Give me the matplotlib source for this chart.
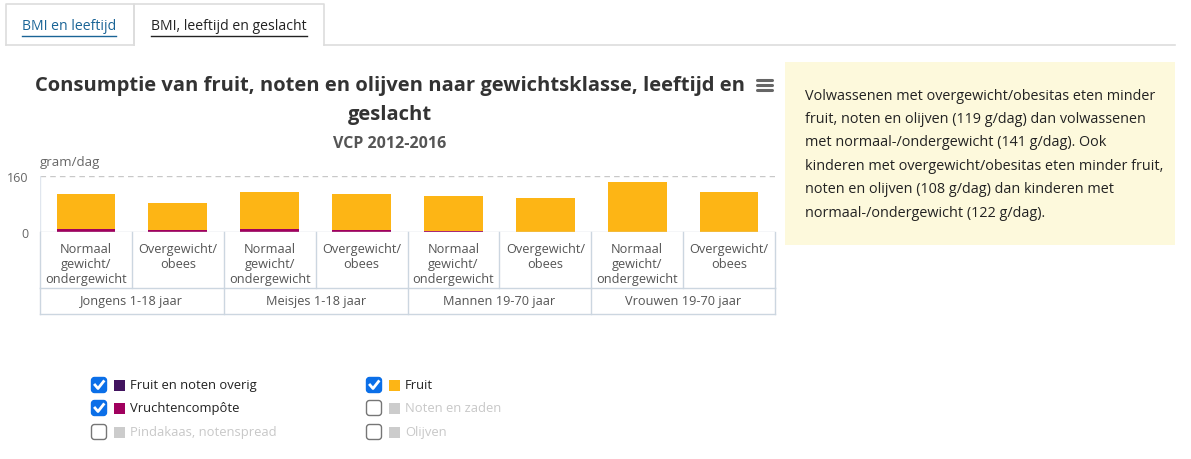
import matplotlib
matplotlib.use('Agg')
import matplotlib.pyplot as plt
from matplotlib.patches import Rectangle, FancyBboxPatch

plt.rcParams['font.family'] = ['Open Sans', 'DejaVu Sans']

# data (gram/dag)
subgroups = ['Normaal\ngewicht/\nondergewicht', 'Overgewicht/\nobees'] * 4
groups = ['Jongens 1-18 jaar', 'Meisjes 1-18 jaar', 'Mannen 19-70 jaar', 'Vrouwen 19-70 jaar']
fruit = [102, 79, 105.5, 105, 100, 96.5, 142, 113.5]
compote = [7.5, 5, 7.5, 5, 2, 0, 0, 0]
overig = [0, 0, 0, 0, 0, 2, 0, 0]
y_ticks = [0, 160]

c_fruit = '#fdb515'
c_compote = '#a0005e'
c_overig = '#42145f'
c_grid = '#ccd6e0'

W, H = 1191, 460
fig = plt.figure(figsize=(W / 100, H / 100), dpi=100)

# overlay in pixel coords for the page bits
bg = fig.add_axes([0, 0, 1, 1])
bg.set_xlim(0, W)
bg.set_ylim(H, 0)
bg.axis('off')


def pt(px):
    return px * 0.72


# tabs
bg.plot([6, 6, 134, 134], [46, 5, 5, 46], color='#dddddd', lw=1.2)
bg.plot([6, 134], [46, 46], color='#dddddd', lw=1.2)
bg.plot([134, 134, 324, 324], [46, 5, 5, 46], color='#dddddd', lw=1.2)
bg.plot([324, 1175], [46, 46], color='#dddddd', lw=1.2)
r = fig.canvas.get_renderer()
for label, x, col in [('BMI en leeftijd', 22, '#1a6496'), ('BMI, leeftijd en geslacht', 151, '#222222')]:
    t = bg.text(x, 26.5, label, fontsize=pt(14), color=col, va='center', ha='left')
    bb = t.get_window_extent(renderer=r)
    bg.plot([x, x + bb.width], [36.5, 36.5], color=col, lw=1)

# title
bg.text(390, 86, 'Consumptie van fruit, noten en olijven naar gewichtsklasse, leeftijd en',
        fontsize=pt(20.2), fontweight='bold', color='#333333', ha='center', va='center')
bg.text(390, 115, 'geslacht', fontsize=pt(20.2), fontweight='bold', color='#333333',
        ha='center', va='center')
bg.text(390, 144, 'VCP 2012-2016', fontsize=pt(16), fontweight='bold', color='#555555',
        ha='center', va='center')
for yy in [81, 86, 91]:
    bg.plot([757, 772], [yy, yy], color='#666666', lw=2.2, solid_capstyle='round')
bg.text(40, 163, 'gram/dag', fontsize=pt(13.3), color='#666666', ha='left', va='center')

# text box
bg.add_patch(Rectangle((785, 63), 390, 183, facecolor='#fdf9dc', edgecolor='none'))
info = ['Volwassenen met overgewicht/obesitas eten minder',
        'fruit, noten en olijven (119 g/dag) dan volwassenen',
        'met normaal-/ondergewicht (141 g/dag). Ook',
        'kinderen met overgewicht/obesitas eten minder fruit,',
        'noten en olijven (108 g/dag) dan kinderen met',
        'normaal-/ondergewicht (122 g/dag).']
for i, line in enumerate(info):
    bg.text(805, 96 + i * 23.5, line, fontsize=pt(14.4), color='#222222', ha='left', va='center')

# legend with checkboxes
legend = [('Fruit en noten overig', c_overig, True, 99, 386),
          ('Vruchtencompôte', c_compote, True, 99, 409),
          ('Pindakaas, notenspread', '#cccccc', False, 99, 433),
          ('Fruit', c_fruit, True, 374, 386),
          ('Noten en zaden', '#cccccc', False, 374, 409),
          ('Olijven', '#cccccc', False, 374, 433)]
for name, col, on, x, y in legend:
    if on:
        bg.add_patch(FancyBboxPatch((x - 7.5, y - 7.5), 15, 15, boxstyle='round,pad=0,rounding_size=3',
                                    facecolor='#0b6fe8', edgecolor='#0b6fe8', lw=1))
        bg.plot([x - 4, x - 1, x + 4.5], [y, y + 3.5, y - 3.5], color='white', lw=2)
    else:
        bg.add_patch(FancyBboxPatch((x - 7.5, y - 7.5), 15, 15, boxstyle='round,pad=0,rounding_size=3',
                                    facecolor='white', edgecolor='#767676', lw=1))
    bg.add_patch(Rectangle((x + 15, y - 5.5), 11, 11, facecolor=col, edgecolor='none'))
    bg.text(x + 31, y, name, fontsize=pt(13), color='#222222' if on else '#c8c8c8',
            ha='left', va='center')

# chart
ax = fig.add_axes([40 / W, (H - 233) / H, 735 / W, 56 / H])
x = list(range(len(fruit)))
bottom2 = [a + b for a, b in zip(compote, fruit)]
ax.bar(x, compote, width=0.64, color=c_compote, zorder=3)
ax.bar(x, fruit, bottom=compote, width=0.64, color=c_fruit, zorder=3)
ax.bar(x, overig, bottom=bottom2, width=0.64, color=c_overig, zorder=3)
ax.set_xlim(-0.5, len(fruit) - 0.5)
ax.set_ylim(0, 160)
ax.set_yticks(y_ticks)
ax.set_yticklabels([str(v) for v in y_ticks], fontsize=pt(12.5), color='#666666')
ax.tick_params(axis='y', length=0, pad=8)
ax.set_xticks([])
for s in ax.spines.values():
    s.set_visible(False)
ax.axhline(160, color='#c8c8c8', lw=1, ls=(0, (4, 3)), zorder=1)
ax.axhline(0, color=c_grid, lw=1, zorder=4)
ax.plot([-0.5, -0.5], [0, 160], color='#e0e6ee', lw=1)

# category boxes under the axis
tr = ax.get_xaxis_transform()
lvl1, lvl2 = -1.0, -1.464
for i in range(len(fruit) + 1):
    ax.plot([i - 0.5, i - 0.5], [0, lvl1], transform=tr, color=c_grid, lw=1, clip_on=False)
for i in range(0, len(fruit) + 1, 2):
    ax.plot([i - 0.5, i - 0.5], [lvl1, lvl2], transform=tr, color=c_grid, lw=1, clip_on=False)
for yy in [lvl1, lvl2]:
    ax.plot([-0.5, len(fruit) - 0.5], [yy, yy], transform=tr, color=c_grid, lw=1, clip_on=False)
for i, lab in enumerate(subgroups):
    ax.text(i, -0.17, lab, transform=tr, ha='center', va='top', fontsize=pt(12.8),
            color='#555555', linespacing=1.22)
for g, lab in enumerate(groups):
    ax.text(2 * g + 0.5, (lvl1 + lvl2) / 2, lab, transform=tr, ha='center', va='center',
            fontsize=pt(12.8), color='#555555')

fig.savefig('out.png', dpi=100)
